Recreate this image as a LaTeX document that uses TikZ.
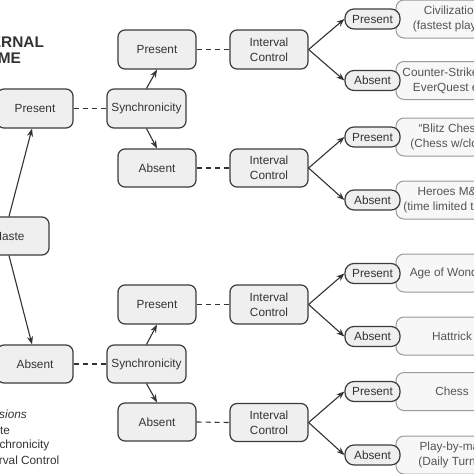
\documentclass[tikz,border=0pt]{standalone}
\usepackage{fontspec}
\setmainfont{Liberation Sans}
\usetikzlibrary{arrows.meta,calc}
\definecolor{txt}{HTML}{333333}
\definecolor{bord}{HTML}{3C3C3C}
\definecolor{boxfill}{HTML}{EFEFEF}
\definecolor{gbord}{HTML}{9A9A9A}
\definecolor{gfill}{HTML}{F7F7F7}
\definecolor{gtxt}{HTML}{555555}
\begin{document}
\begin{tikzpicture}[x=1pt,y=-1pt,
  font=\fontsize{11.8}{15}\selectfont,
  mainbox/.style={draw=bord,fill=boxfill,line width=1.2pt,rounded corners=7pt,text=txt,
    minimum width=78pt,minimum height=38pt,inner sep=0pt,align=center},
  pill/.style={draw=bord,fill=boxfill,line width=1.2pt,rounded corners=9pt,text=txt,
    minimum width=55pt,minimum height=20pt,inner sep=0pt},
  gamebox/.style={draw=gbord,fill=gfill,line width=1pt,rounded corners=8pt,text=gtxt,
    minimum width=112pt,minimum height=38pt,inner sep=0pt,align=center},
  arr/.style={draw=txt,line width=1.1pt,-{Stealth[length=8pt,width=6pt]}},
  dashline/.style={draw=txt,line width=1.1pt,dash pattern=on 5pt off 4pt},
  leg/.style={text=txt,inner sep=0pt}]
\useasboundingbox (0,0) rectangle (474,474);
\clip (0,0) rectangle (474,474);
\fill[white] (0,0) rectangle (474,474);

% title
\node[text=txt,font=\fontsize{15.4}{16}\selectfont\bfseries,align=center,inner sep=0pt] (title) at (2.5,50.5) {EXTERNAL\\TIME};

% left column
\node[mainbox,minimum width=76pt,minimum height=39pt] (lpres) at (35,108.5) {Present};
\node[mainbox,minimum width=80pt] (haste) at (9,236) {Haste};
\node[mainbox,minimum width=76pt] (labs) at (35,364) {Absent};

% synchronicity
\node[mainbox,minimum width=79pt,minimum height=39pt] (sync1) at (146.5,108.5) {Synchronicity};
\node[mainbox,minimum width=79pt] (sync2) at (146.5,364) {Synchronicity};

\node[mainbox,minimum height=39pt] (pres1) at (157,49.5) {Present};
\node[mainbox] (abs1) at (157,168) {Absent};
\node[mainbox,minimum height=39pt] (pres2) at (157,304.5) {Present};
\node[mainbox] (abs2) at (157,422) {Absent};

\node[mainbox,minimum height=39pt] (ic1) at (269,49.5) {Interval\\Control};
\node[mainbox] (ic2) at (269,168) {Interval\\Control};
\node[mainbox,minimum height=39pt] (ic3) at (269,304.5) {Interval\\Control};
\node[mainbox] (ic4) at (269,422.5) {Interval\\Control};

% game boxes
\node[gamebox] (g1) at (452,19) {Civilization\\(fastest player)};
\node[gamebox] (g2) at (452,80.5) {Counter-Strike and\\EverQuest etc.};
\node[gamebox] (g3) at (452,137) {“Blitz Chess”\\(Chess w/clock)};
\node[gamebox] (g4) at (452,200) {Heroes M\&M\\(time limited turns)};
\node[gamebox] (g5) at (452,273) {Age of Wonders};
\node[gamebox] (g6) at (452,336) {Hattrick};
\node[gamebox] (g7) at (452,391.5) {Chess};
\node[gamebox] (g8) at (452,455) {Play-by-mail\\(Daily Turns)};

% pills
\node[pill] (p1) at (372.5,19) {Present};
\node[pill] (a1) at (372.5,80.5) {Absent};
\node[pill] (p2) at (372.5,137) {Present};
\node[pill] (a2) at (372.5,200) {Absent};
\node[pill] (p3) at (372.5,273.5) {Present};
\node[pill] (a3) at (372.5,336.5) {Absent};
\node[pill] (p4) at (372.5,391.5) {Present};
\node[pill] (a4) at (372.5,455) {Absent};

% arrows
\draw[arr] (haste.north) -- ($(lpres.south)+(-3,0)$);
\draw[arr] (haste.south) -- ($(labs.north)+(-3,0)$);
\draw[arr] (sync1.north) -- (pres1.south);
\draw[arr] (sync1.south) -- (abs1.north);
\draw[arr] (sync2.north) -- (pres2.south);
\draw[arr] (sync2.south) -- (abs2.north);
\draw[arr] (ic1.east) -- (p1.west);
\draw[arr] (ic1.east) -- (a1.west);
\draw[arr] (ic2.east) -- (p2.west);
\draw[arr] (ic2.east) -- (a2.west);
\draw[arr] (ic3.east) -- (p3.west);
\draw[arr] (ic3.east) -- (a3.west);
\draw[arr] (ic4.east) -- (p4.west);
\draw[arr] (ic4.east) -- (a4.west);

% dashed
\draw[dashline] (lpres.east) -- (sync1.west);
\draw[dashline] (labs.east) -- (sync2.west);
\draw[dashline] (pres1.east) -- (ic1.west);
\draw[dashline] (abs1.east) -- (ic2.west);
\draw[dashline] (pres2.east) -- (ic3.west);
\draw[dashline] (abs2.east) -- (ic4.west);

% legend
\node[leg,anchor=east,font=\fontsize{11.8}{15}\selectfont\itshape] (lg0) at (27,414) {Dimensions};
\node[leg,anchor=west] (lg1) at (-21,430) {Haste};
\node[leg,anchor=west] (lg2) at (-21,445) {Synchronicity};
\node[leg,anchor=west] (lg3) at (-21,460) {Interval Control};
\end{tikzpicture}
\end{document}
